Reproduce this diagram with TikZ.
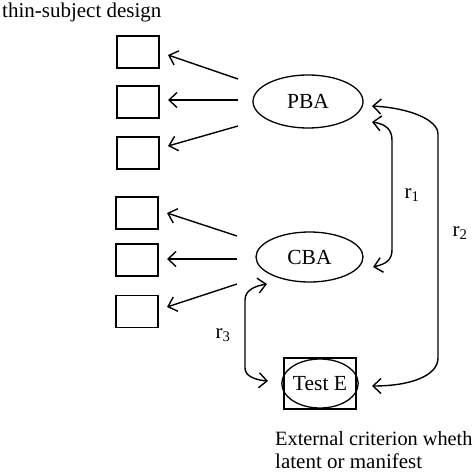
\documentclass[tikz,border=0pt]{standalone}
\usepackage{fontspec}
\setmainfont{Liberation Serif}
\usetikzlibrary{shapes.geometric,arrows.meta}
\begin{document}
\begin{tikzpicture}[x=1pt,y=-1pt,
  box/.style={draw,line width=1.3pt,minimum width=42pt,minimum height=32pt,inner sep=0pt},
  oval/.style={draw,ellipse,line width=1.3pt,inner sep=0pt,font=\fontsize{21.5}{22}\selectfont},
  arr/.style={line width=1.4pt,-{Straight Barb[length=8pt,width=15pt,line width=1.4pt]}},
  dbl/.style={line width=1.4pt,{Straight Barb[length=8pt,width=15pt,line width=1.4pt]}-{Straight Barb[length=8pt,width=15pt,line width=1.4pt]}},
  lbl/.style={font=\fontsize{21}{23}\selectfont,inner sep=0pt}]
\useasboundingbox (0,0) rectangle (474,474);
\node[lbl,anchor=base west] (title) at (2,17) {thin-subject design};
% boxes
\node[box] (b1) at (138,52) {};
\node[box] (b2) at (138,102) {};
\node[box] (b3) at (138,153) {};
\node[box] (b4) at (137,213) {};
\node[box] (b5) at (137,260) {};
\node[box] (b6) at (137,311.5) {};
% ellipses
\node[oval,minimum width=110pt,minimum height=53pt] (pba) at (308,101.5) {PBA};
\node[oval,minimum width=107pt,minimum height=50pt] (cba) at (309.5,257) {CBA};
\node[draw,line width=1.3pt,minimum width=72pt,minimum height=51pt,inner sep=0pt] (tbox) at (320,383.5) {};
\node[oval,minimum width=70pt,minimum height=49pt] (teste) at (320,383.5) {Test E};
% arrow starts
\coordinate (p1) at (238,79);
\coordinate (p2) at (238,100);
\coordinate (p3) at (238,126);
\coordinate (c1) at (237,236);
\coordinate (c2) at (237,259);
\coordinate (c3) at (237,284);
\coordinate (e1) at (168,55);
\coordinate (e2) at (168,100);
\coordinate (e3) at (168,146);
\coordinate (f1) at (167,213);
\coordinate (f2) at (167,259);
\coordinate (f3) at (167,307);
\draw[arr] (p1) -- (e1);
\draw[arr] (p2) -- (e2);
\draw[arr] (p3) -- (e3);
\draw[arr] (c1) -- (f1);
\draw[arr] (c2) -- (f2);
\draw[arr] (c3) -- (f3);
% correlation arrows
\coordinate (r1a) at (372,122);
\coordinate (r1b) at (373,267);
\coordinate (r2a) at (372,106);
\coordinate (r2b) at (372,386);
\coordinate (r3a) at (267,284);
\coordinate (r3b) at (268,381);
\draw[dbl] (r1a) .. controls (386,124) and (392,130) .. (392,140) -- (392,250) .. controls (392,260) and (386,264) .. (r1b);
\draw[dbl] (r2a) .. controls (410,108) and (438,120) .. (438,134) -- (438,358) .. controls (438,376) and (410,386) .. (r2b);
\draw[dbl] (r3a) .. controls (255,286) and (245,290) .. (245,300) -- (245,368) .. controls (245,376) and (255,380) .. (r3b);
\node[lbl] (lr1) at (412,195) {r\textsubscript{1}};
\node[lbl] (lr2) at (460,233) {r\textsubscript{2}};
\node[lbl] (lr3) at (223,335) {r\textsubscript{3}};
\node[lbl,anchor=base west,font=\fontsize{20.3}{23}\selectfont] (ext1) at (275,445) {External criterion wheth};
\node[lbl,anchor=base west] (ext2) at (275,468) {latent or manifest};
\end{tikzpicture}
\end{document}
